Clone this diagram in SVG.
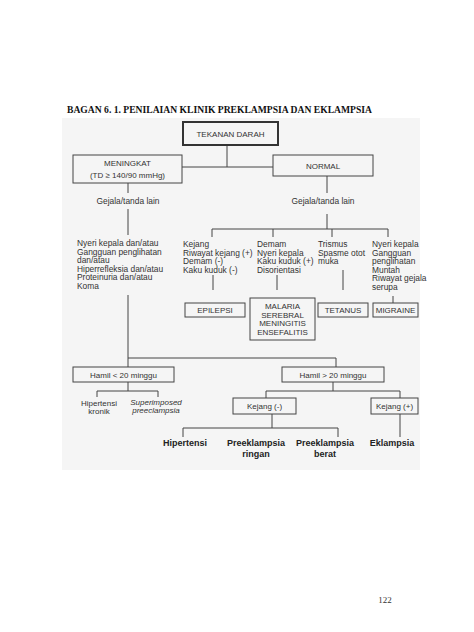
<svg xmlns="http://www.w3.org/2000/svg" width="474" height="632" viewBox="0 0 474 632">
<style>
.t{font-family:"Liberation Sans",Arial,sans-serif;font-size:8px;fill:#333}
.m{font-size:8.400px}
.c{text-anchor:middle}
.b{font-weight:bold;font-size:9px;fill:#222}
.i{font-style:italic}
.bx{fill:none;stroke:#444;stroke-width:1}
.ln{fill:none;stroke:#444;stroke-width:1}
</style>
<rect width="474" height="632" fill="#ffffff"/>
<rect x="62" y="118" width="358" height="352" fill="#f5f5f5"/>
<text x="67" y="113" font-family="'Liberation Serif',serif" font-weight="bold" font-size="10.5" fill="#111" textLength="305" lengthAdjust="spacingAndGlyphs">BAGAN 6. 1. PENILAIAN KLINIK PREKLAMPSIA DAN EKLAMPSIA</text>

<g id="connectors" class="ln">
<path d="M227 145V167M182 167H273"/>
<path d="M128 183V193M128 209V235"/>
<path d="M327 176V193M327 214V229"/>
<path d="M212 229H388M212 229V237M273 229V237M332 229V237M388 229V237"/>
<path d="M213 275V290M277 275V290M343 270V290M393 296V303"/>
<path d="M128 295V367M128 358H336V367"/>
<path d="M128 382V391M97 391H158M97 391V397M158 391V397"/>
<path d="M333 382V391M266 391H400M266 391V398M400 391V398"/>
<path d="M272 414V428M183 428H338M183 428V437M338 428V437"/>
<path d="M400 414V437"/>
</g>

<g id="tekanan"><rect x="183" y="122" width="95" height="23" fill="none" stroke="#333" stroke-width="2"/><text class="t c" x="230.500" y="137" font-size="9">TEKANAN DARAH</text></g>
<g id="meningkat"><rect class="bx" x="73" y="155" width="109" height="28"/><text class="t c" x="127.500" y="166" font-size="9">MENINGKAT</text><text class="t c" x="127.500" y="178" font-size="9">(TD ≥ 140/90 mmHg)</text></g>
<g id="normal"><rect class="bx" x="273" y="155" width="100" height="21"/><text class="t c" x="323" y="169" font-size="9">NORMAL</text></g>
<g id="gejala1"><text class="t c m" x="128" y="204">Gejala/tanda lain</text></g>
<g id="gejala2"><text class="t c m" x="323" y="204">Gejala/tanda lain</text></g>

<g id="col1"><text class="t m"><tspan x="77" y="246">Nyeri kepala dan/atau</tspan><tspan x="77" y="254.500">Gangguan penglihatan</tspan><tspan x="77" y="263">dan/atau</tspan><tspan x="77" y="271.500">Hiperrefleksia dan/atau</tspan><tspan x="77" y="280">Proteinuria dan/atau</tspan><tspan x="77" y="288.500">Koma</tspan></text></g>
<g id="col2"><text class="t m"><tspan x="183" y="247">Kejang</tspan><tspan x="183" y="255.500">Riwayat kejang (+)</tspan><tspan x="183" y="264">Demam (-)</tspan><tspan x="183" y="272.500">Kaku kuduk (-)</tspan></text></g>
<g id="col3"><text class="t m"><tspan x="257" y="247">Demam</tspan><tspan x="257" y="255.500">Nyeri kepala</tspan><tspan x="257" y="264">Kaku kuduk (+)</tspan><tspan x="257" y="272.500">Disorientasi</tspan></text></g>
<g id="col4"><text class="t m"><tspan x="318" y="247">Trismus</tspan><tspan x="318" y="255.500">Spasme otot</tspan><tspan x="318" y="264">muka</tspan></text></g>
<g id="col5"><text class="t m"><tspan x="372" y="247">Nyeri kepala</tspan><tspan x="372" y="255.500">Gangguan</tspan><tspan x="372" y="264">penglihatan</tspan><tspan x="372" y="272.500">Muntah</tspan><tspan x="372" y="281">Riwayat gejala</tspan><tspan x="372" y="289.500">serupa</tspan></text></g>

<g id="epilepsi"><rect class="bx" x="185" y="303" width="60" height="14"/><text class="t c" x="215" y="313">EPILEPSI</text></g>
<g id="malaria"><rect class="bx" x="250" y="298" width="65" height="42"/><text class="t c"><tspan x="282.500" y="309">MALARIA</tspan><tspan x="282.500" y="317.500">SEREBRAL</tspan><tspan x="282.500" y="326">MENINGITIS</tspan><tspan x="282.500" y="334.500">ENSEFALITIS</tspan></text></g>
<g id="tetanus"><rect class="bx" x="318" y="303" width="50" height="14"/><text class="t c" x="343" y="313">TETANUS</text></g>
<g id="migraine"><rect class="bx" x="373" y="303" width="45" height="14"/><text class="t c" x="395.500" y="313">MIGRAINE</text></g>

<g id="hamil1"><rect class="bx" x="73" y="367" width="101" height="15"/><text class="t c" x="123.500" y="377.500" font-size="7.500">Hamil &lt; 20 minggu</text></g>
<g id="hamil2"><rect class="bx" x="282" y="367" width="102" height="15"/><text class="t c" x="333" y="377.500" font-size="7.500">Hamil &gt; 20 minggu</text></g>
<g id="kronik"><text class="t c" font-size="7.500"><tspan x="99" y="406">Hipertensi</tspan><tspan x="99" y="414">kronik</tspan></text></g>
<g id="superimposed"><text class="t c i" font-size="7.500"><tspan x="156" y="405">Superimposed</tspan><tspan x="156" y="413">preeclampsia</tspan></text></g>
<g id="kejangneg"><rect class="bx" x="233" y="398" width="63" height="16"/><text class="t c" x="264.500" y="409" font-size="7.500">Kejang (-)</text></g>
<g id="kejangpos"><rect class="bx" x="371" y="398" width="47" height="16"/><text class="t c" x="394.500" y="409" font-size="7.500">Kejang (+)</text></g>

<g id="hipertensi"><text class="t c b" x="185" y="446">Hipertensi</text></g>
<g id="pe-ringan"><text class="t c b"><tspan x="256" y="446">Preeklampsia</tspan><tspan x="256" y="457">ringan</tspan></text></g>
<g id="pe-berat"><text class="t c b"><tspan x="325" y="446">Preeklampsia</tspan><tspan x="325" y="457">berat</tspan></text></g>
<g id="eklampsia"><text class="t c b" x="392" y="446">Eklampsia</text></g>

<text x="385" y="603" font-family="'Liberation Serif',serif" font-size="9" fill="#333" text-anchor="middle">122</text>
</svg>
